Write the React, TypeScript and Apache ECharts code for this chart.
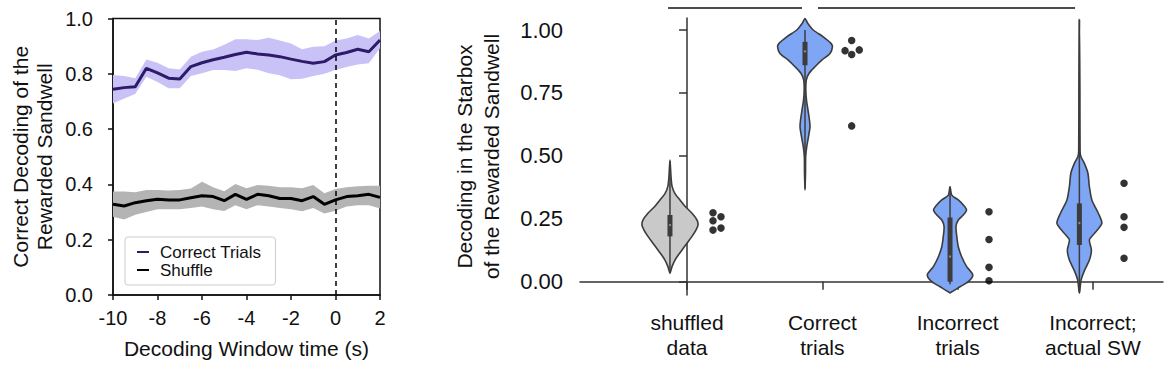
import React, { useEffect, useRef } from "react";
import * as echarts from "echarts";

// ---------- Left panel data ----------
const times = [-10, -9.5, -9, -8.5, -8, -7.5, -7, -6.5, -6, -5.5, -5, -4.5, -4, -3.5, -3, -2.5, -2, -1.5, -1, -0.5, 0, 0.5, 1, 1.5, 2];
const correctMean = [0.744, 0.75, 0.753, 0.82, 0.803, 0.784, 0.781, 0.826, 0.84, 0.851, 0.86, 0.87, 0.878, 0.872, 0.868, 0.862, 0.853, 0.845, 0.838, 0.844, 0.868, 0.877, 0.889, 0.88, 0.922];
const correctUpper = [0.796, 0.792, 0.784, 0.852, 0.84, 0.82, 0.816, 0.862, 0.88, 0.888, 0.905, 0.925, 0.925, 0.922, 0.93, 0.92, 0.91, 0.889, 0.898, 0.9, 0.92, 0.928, 0.94, 0.928, 0.955];
const correctLower = [0.693, 0.711, 0.727, 0.789, 0.77, 0.748, 0.748, 0.792, 0.802, 0.814, 0.814, 0.81, 0.82, 0.815, 0.802, 0.795, 0.78, 0.782, 0.792, 0.8, 0.814, 0.825, 0.834, 0.838, 0.892];
const shuffleMean = [0.328, 0.322, 0.334, 0.341, 0.346, 0.344, 0.344, 0.352, 0.359, 0.356, 0.341, 0.364, 0.346, 0.364, 0.359, 0.349, 0.349, 0.341, 0.356, 0.328, 0.344, 0.356, 0.359, 0.364, 0.353];
const shuffleUpper = [0.374, 0.374, 0.372, 0.38, 0.38, 0.378, 0.38, 0.385, 0.41, 0.39, 0.375, 0.401, 0.386, 0.398, 0.395, 0.39, 0.39, 0.386, 0.398, 0.368, 0.383, 0.39, 0.393, 0.395, 0.395];
const shuffleLower = [0.283, 0.273, 0.29, 0.3, 0.31, 0.31, 0.31, 0.315, 0.32, 0.31, 0.304, 0.325, 0.31, 0.325, 0.32, 0.315, 0.31, 0.303, 0.315, 0.295, 0.305, 0.32, 0.325, 0.325, 0.313];

// ---------- Right panel data ----------
const violinLabels = ["shuffled\ndata", "Correct\ntrials", "Incorrect\ntrials", "Incorrect;\nactual SW"];
const violinTicks = [0, 1, 2, 3];
const rightYTicks = [0, 0.25, 0.5, 0.75, 1.0];
const violinCenters = [-0.126, 0.872, 1.944, 2.9];
// [value, half-width in category units]
const violinShuffled = [[0.034, 0], [0.06, 0.015], [0.086, 0.037], [0.11, 0.067], [0.126, 0.089], [0.153, 0.126], [0.18, 0.163], [0.205, 0.192], [0.225, 0.207], [0.245, 0.2], [0.272, 0.163], [0.3, 0.111], [0.325, 0.074], [0.35, 0.037], [0.38, 0.015], [0.42, 0.0074], [0.483, 0]];
const violinCorrect = [[0.364, 0], [0.43, 0.0037], [0.497, 0.005], [0.536, 0.0126], [0.576, 0.026], [0.616, 0.037], [0.642, 0.033], [0.682, 0.022], [0.722, 0.011], [0.761, 0.006], [0.801, 0.0096], [0.828, 0.03], [0.854, 0.074], [0.881, 0.126], [0.907, 0.185], [0.934, 0.203], [0.947, 0.192], [0.973, 0.135], [1.0, 0.061], [1.027, 0.02], [1.046, 0]];
const violinIncorrect = [[-0.045, 0], [-0.04, 0.0126], [-0.02, 0.074], [0, 0.135], [0.027, 0.168], [0.06, 0.123], [0.099, 0.086], [0.139, 0.061], [0.179, 0.05], [0.219, 0.044], [0.245, 0.061], [0.265, 0.098], [0.285, 0.122], [0.305, 0.098], [0.325, 0.061], [0.344, 0.0126], [0.378, 0]];
const violinActual = [[-0.046, 0], [-0.033, 0.0037], [0.007, 0.0126], [0.046, 0.039], [0.086, 0.074], [0.126, 0.089], [0.166, 0.074], [0.192, 0.111], [0.232, 0.166], [0.272, 0.14], [0.325, 0.092], [0.377, 0.074], [0.431, 0.063], [0.47, 0.037], [0.497, 0.011], [0.52, 0.005], [0.75, 0.0037], [1.042, 0]];
const violinProfiles = [violinShuffled, violinCorrect, violinIncorrect, violinActual];
const whiskerLow = [0.04, 0.37, -0.01, -0.04];
const whiskerHigh = [0.48, 1.0, 0.375, 1.04];
const boxQ1 = [0.18, 0.86, 0.0, 0.146];
const boxQ3 = [0.265, 0.953, 0.255, 0.311];
const medians = [0.225, 0.915, 0.1, 0.233];

const dotsShuffledX = [0.192, 0.251, 0.192, 0.251, 0.192];
const dotsShuffledY = [0.274, 0.258, 0.242, 0.213, 0.205];
const dotsCorrectX = [1.217, 1.168, 1.273, 1.217, 1.217];
const dotsCorrectY = [0.958, 0.918, 0.921, 0.903, 0.619];
const dotsIncorrectX = [2.232, 2.232, 2.232, 2.232];
const dotsIncorrectY = [0.278, 0.168, 0.057, 0.004];
const dotsActualX = [3.23, 3.23, 3.23, 3.23];
const dotsActualY = [0.391, 0.258, 0.216, 0.093];

const sigLine1 = [-0.14, 0.85];
const sigLine2 = [0.968, 2.868];
const sigY = 1.087;

const FONT = "'Liberation Sans', Arial, Helvetica, sans-serif";
const violinColors = ["#c9c9c9", "#7fa6f4", "#7fa6f4", "#7fa6f4"];
const EDGE = "#3c3c3c";

export default function App() {
  const ref = useRef<HTMLDivElement>(null);
  useEffect(() => {
    if (!ref.current) return;
    const chart = echarts.init(ref.current, null, { renderer: "svg" });
    const cats = times.map(String);
    const cBand = correctUpper.map((u, i) => +(u - correctLower[i]).toFixed(4));
    const sBand = shuffleUpper.map((u, i) => +(u - shuffleLower[i]).toFixed(4));
    const pairs = (xs: number[], ys: number[]) => xs.map((x, i) => [x, ys[i]]);
    const dots = [
      ...pairs(dotsShuffledX, dotsShuffledY),
      ...pairs(dotsCorrectX, dotsCorrectY),
      ...pairs(dotsIncorrectX, dotsIncorrectY),
      ...pairs(dotsActualX, dotsActualY),
    ];

    const option: any = {
      animation: false,
      textStyle: { fontFamily: FONT, color: "#111" },
      grid: [
        { left: 113, top: 18.5, width: 267, height: 276.5, show: true, borderColor: "#111", borderWidth: 1.5, backgroundColor: "transparent" },
        { left: 580, top: 18, width: 583, height: 277 },
      ],
      legend: {
        data: ["Correct Trials", "Shuffle"],
        orient: "vertical",
        left: 125,
        top: 237,
        icon: "rect",
        itemWidth: 12,
        itemHeight: 2,
        itemGap: 0,
        padding: [6, 14, 6, 12],
        borderColor: "#cccccc",
        borderWidth: 1,
        borderRadius: 3,
        backgroundColor: "rgba(255,255,255,0.85)",
        textStyle: { fontSize: 17, lineHeight: 18, color: "#111", fontFamily: FONT, padding: [0, 0, 0, 6] },
      },
      xAxis: [
        {
          gridIndex: 0,
          type: "category",
          data: cats,
          boundaryGap: false,
          axisLine: { lineStyle: { color: "#111", width: 1.5 } },
          axisTick: { interval: 3, length: 5, lineStyle: { color: "#111", width: 1.5 } },
          axisLabel: { interval: 3, fontSize: 20, color: "#111", margin: 13, fontFamily: FONT },
          name: "Decoding Window time (s)",
          nameLocation: "middle",
          nameGap: 43,
          nameTextStyle: { fontSize: 21, color: "#111", fontFamily: FONT },
          splitLine: { show: false },
        },
        {
          gridIndex: 1,
          type: "value",
          min: -0.791,
          max: 3.518,
          axisLine: { lineStyle: { color: "#333", width: 1.5 } },
          axisTick: { customValues: violinTicks, length: 8, lineStyle: { color: "#333", width: 1.5 } },
          axisLabel: {
            customValues: violinTicks,
            formatter: (v: number) => violinLabels[Math.round(v)] ?? "",
            fontSize: 21,
            lineHeight: 25,
            color: "#111",
            margin: 15,
            fontFamily: FONT,
          },
          splitLine: { show: false },
        },
      ],
      yAxis: [
        {
          gridIndex: 0,
          type: "value",
          min: 0,
          max: 1,
          interval: 0.2,
          axisLine: { show: true, lineStyle: { color: "#111", width: 1.5 } },
          axisTick: { show: true, length: 5, lineStyle: { color: "#111", width: 1.5 } },
          axisLabel: { fontSize: 20, color: "#111", margin: 20, formatter: (v: number) => v.toFixed(1), fontFamily: FONT },
          splitLine: { show: false },
          name: "Correct Decoding of the\nRewarded Sandwell",
          nameLocation: "middle",
          nameGap: 57,
          nameTextStyle: { fontSize: 21, lineHeight: 24, color: "#111", fontFamily: FONT },
        },
        {
          gridIndex: 1,
          type: "value",
          min: -0.0528,
          max: 1.0477,
          axisLine: { show: true, lineStyle: { color: "#333", width: 1.5 } },
          axisTick: { show: true, customValues: rightYTicks, length: 8, lineStyle: { color: "#333", width: 1.5 } },
          axisLabel: { customValues: rightYTicks, fontSize: 22, color: "#111", margin: 17, formatter: (v: number) => v.toFixed(2), fontFamily: FONT },
          splitLine: { show: false },
          name: "Decoding in the Starbox\nof the Rewarded Sandwell",
          nameLocation: "middle",
          nameGap: 75,
          nameTextStyle: { fontSize: 21, lineHeight: 27, color: "#111", fontFamily: FONT },
        },
      ],
      series: [
        {
          type: "line", xAxisIndex: 0, yAxisIndex: 0, stack: "cb", data: correctLower,
          symbol: "none", lineStyle: { opacity: 0 }, silent: true,
        },
        {
          type: "line", xAxisIndex: 0, yAxisIndex: 0, stack: "cb", data: cBand,
          symbol: "none", lineStyle: { opacity: 0 }, areaStyle: { color: "#c8c2f7", opacity: 1 }, silent: true,
        },
        {
          type: "line", xAxisIndex: 0, yAxisIndex: 0, stack: "sb", data: shuffleLower,
          symbol: "none", lineStyle: { opacity: 0 }, silent: true,
        },
        {
          type: "line", xAxisIndex: 0, yAxisIndex: 0, stack: "sb", data: sBand,
          symbol: "none", lineStyle: { opacity: 0 }, areaStyle: { color: "#b4b4b4", opacity: 1 }, silent: true,
        },
        {
          name: "Correct Trials", type: "line", xAxisIndex: 0, yAxisIndex: 0, data: correctMean,
          symbol: "none", color: "#2d1b69", lineStyle: { color: "#2d1b69", width: 3 },
        },
        {
          name: "Shuffle", type: "line", xAxisIndex: 0, yAxisIndex: 0, data: shuffleMean,
          symbol: "none", color: "#000", lineStyle: { color: "#000", width: 3 },
          markLine: {
            silent: true, symbol: "none", label: { show: false },
            lineStyle: { color: "#000", type: [5, 4], width: 1.5 },
            data: [{ xAxis: "0" }],
          },
        },
        {
          type: "custom",
          xAxisIndex: 1,
          yAxisIndex: 1,
          clip: false,
          data: violinCenters.map((c, i) => [c, i, medians[i]]),
          encode: { x: 0, y: 2 },
          renderItem: (params: any, api: any) => {
            const i = api.value(1);
            const c = violinCenters[i];
            const prof = violinProfiles[i];
            const right = prof.map(([y, w]) => api.coord([c + w, y]));
            const left = prof.slice().reverse().filter(([, w]) => w > 0).map(([y, w]) => api.coord([c - w, y]));
            const pts = right.concat(left);
            const wl = api.coord([c, whiskerLow[i]]);
            const wh = api.coord([c, whiskerHigh[i]]);
            const q1 = api.coord([c, boxQ1[i]]);
            const q3 = api.coord([c, boxQ3[i]]);
            const md = api.coord([c, medians[i]]);
            return {
              type: "group",
              children: [
                { type: "polygon", shape: { points: pts, smooth: 0.25 }, style: { fill: violinColors[i], stroke: EDGE, lineWidth: 1.6 } },
                { type: "line", shape: { x1: wl[0], y1: wl[1], x2: wh[0], y2: wh[1] }, style: { stroke: EDGE, lineWidth: 1.5 } },
                { type: "line", shape: { x1: q1[0], y1: q1[1], x2: q3[0], y2: q3[1] }, style: { stroke: EDGE, lineWidth: 5, lineCap: "butt" } },
                { type: "circle", shape: { cx: md[0], cy: md[1], r: 1.2 }, style: { fill: "#8a8a8a" } },
              ],
            };
          },
        },
        {
          type: "scatter", xAxisIndex: 1, yAxisIndex: 1, data: dots,
          symbolSize: 7.5, itemStyle: { color: "#000" }, clip: false,
        },
        {
          type: "line", xAxisIndex: 1, yAxisIndex: 1, clip: false, symbol: "none",
          data: [[sigLine1[0], sigY], [sigLine1[1], sigY]], lineStyle: { color: "#111", width: 1.5 },
        },
        {
          type: "line", xAxisIndex: 1, yAxisIndex: 1, clip: false, symbol: "none",
          data: [[sigLine2[0], sigY], [sigLine2[1], sigY]], lineStyle: { color: "#111", width: 1.5 },
        },
      ],
    };
    chart.setOption(option);
    return () => chart.dispose();
  }, []);
  return <div ref={ref} style={{ position: "fixed", left: 0, top: 0, width: 1174, height: 380, background: "#fff" }} />;
}
